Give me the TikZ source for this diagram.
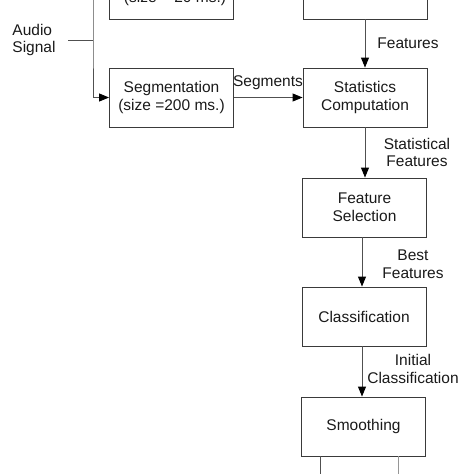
\documentclass[tikz,border=0pt]{standalone}
\usepackage{fontspec}
\setmainfont{Liberation Sans}
\usetikzlibrary{arrows.meta}
\definecolor{linec}{HTML}{505050}
\definecolor{boxc}{HTML}{3A3A3A}
\definecolor{textc}{HTML}{1A1A1A}
\tikzset{
  blockbox/.style={draw=boxc, line width=0.9pt, minimum width=124pt, minimum height=59pt,
    inner sep=0pt, align=center, text=textc, font=\fontsize{15.5}{18}\selectfont},
  lbl/.style={inner sep=0pt, align=center, text=textc, font=\fontsize{15.5}{17.5}\selectfont},
  conn/.style={draw=linec, line width=0.9pt},
  arr/.style={conn, -{Triangle[length=10pt,width=8pt,color=black]}},
}
\begin{document}
\begin{tikzpicture}[x=1pt,y=-1pt]
\useasboundingbox (0,0) rectangle (474,474);
\clip (0,0) rectangle (474,474);
\fill[white] (0,0) rectangle (474,474);
% top boxes (cut off)
\node[blockbox] (framing) at (171.5,-10.5) {};
\node[lbl] (framingtxt) at (175,-2) {(size = 20 ms.)};
\node[blockbox] (extract) at (365,-10.5) {};
% main column
\node[blockbox] (seg) at (171.5,97.5) {Segmentation\\(size =200 ms.)};
\node[blockbox] (stats) at (365,97.5) {Statistics\\Computation};
\node[blockbox] (fsel) at (364.5,207.5) {Feature\\Selection};
\node[blockbox] (cls) at (364,316.5) {Classification};
\node[blockbox] (smooth) at (363.5,426.5) {Smoothing};
% audio signal input
\node[lbl, align=left] (audio) at (34,40) {Audio\\Signal};
\coordinate (split) at (93,40);
\coordinate (uptop) at (93,-20);
\coordinate (down) at (93,97.5);
\draw[conn] (68,40) -- (split);
\draw[conn] (uptop) -- (split) -- (down);
\draw[arr] (down) -- (seg.west);
% connectors
\draw[arr] (extract.south -| stats.north) -- (stats.north) node[lbl, pos=0.5, right=12pt] (flab) {Features};
\draw[arr] (seg.east) -- (stats.west);
\node[lbl] (seglab) at (268,83) {Segments};
\draw[arr] (stats.south) -- (stats.south |- fsel.north);
\node[lbl] (stlab) at (417,152.5) {Statistical\\Features};
\draw[arr] (fsel.south -| 362,0) -- (cls.north -| 362,0);
\node[lbl] (bflab) at (413,264) {Best\\Features};
\draw[arr] (cls.south -| 362,0) -- (smooth.north -| 362,0);
\node[lbl] (iclab) at (413,369) {Initial\\Classification};
% outputs below smoothing
\coordinate (o1) at (320,490);
\coordinate (o2) at (398,490);
\draw[conn] (smooth.south -| o1) -- (o1);
\draw[conn, draw=linec!60] (smooth.south -| o2) -- (o2);
\end{tikzpicture}
\end{document}
